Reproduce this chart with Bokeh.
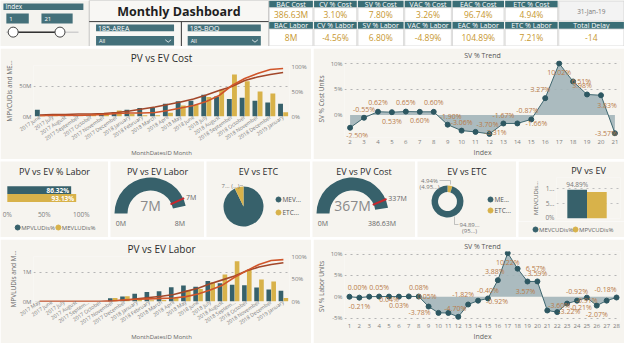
import math
from bokeh.plotting import figure
from bokeh.models import (ColumnDataSource, FactorRange, Range1d, LinearAxis, FixedTicker,
                          CustomJSTickFormatter)
from bokeh.layouts import column, row
from bokeh.transform import dodge
from bokeh.core.properties import value
from bokeh.embed import file_html
from bokeh.resources import INLINE

# ------------------------------------------------------------------ data
report_date = "31-Jan-19"
index_from = 1
index_to = 21
area_name = "185-AREA"
boq_name = "185-BOQ"
filter_value = "All"

kpi_cost_labels = ["BAC Cost", "CV % Cost", "SV % Cost", "VAC % Cost", "EAC % Cost", "ETC % Cost"]
kpi_cost_values = ["386.63M", "3.10%", "7.80%", "3.26%", "96.74%", "4.94%"]
kpi_labor_labels = ["BAC Labor", "CV % Labor", "SV % Labor", "VAC % Labor", "EAC % Labor",
                    "ETC % Labor", "Total Delay"]
kpi_labor_values = ["8M", "-4.56%", "6.80%", "-4.89%", "104.89%", "7.21%", "-14"]

cost_months = ["2017 June", "2017 July", "2017 August", "2017 September", "2017 October",
               "2017 November", "2017 December", "2018 January", "2018 February", "2018 March",
               "2018 April", "2018 May", "2018 June", "2018 July", "2018 August",
               "2018 September", "2018 October", "2018 November", "2018 December", "2019 January"]
cost_pv = [11, 4, 1, 2, 2, 3, 7, 11, 14, 15, 21, 25, 26, 36, 33, 29, 31, 26, 23, 21]          # M
cost_ev = [1, 3, 0.5, 0.5, 3, 4, 10, 4, 2, 2, 6, 18, 19, 32, 44, 69, 58, 41, 38, 7]           # M
cost_pv_cum = [3, 4, 4, 5, 5, 6, 8, 11, 15, 19, 24, 29, 35, 43, 52, 60, 72, 79, 84, 88]       # %
cost_ev_cum = [1, 2, 2, 2, 3, 4, 6, 7, 7, 8, 12, 17, 22, 30, 42, 62, 76, 86, 94, 96]          # %

labor_months = ["2017 May", "2017 June", "2017 July", "2017 August", "2017 Septem...",
                "2017 October", "2017 November", "2017 December", "2018 January",
                "2018 February", "2018 March", "2018 April", "2018 May", "2018 June",
                "2018 July", "2018 August", "2018 Septem...", "2018 October", "2018 November",
                "2018 December", "2019 January"]
labor_pv = [0.01, 0, 0, 0, 0, 0, 0.11, 0.17, 0.27, 0.33, 0.35, 0.49, 0.55, 0.51, 0.71, 0.63,
            0.58, 0.56, 0.48, 0.41, 0.37]
labor_ev = [0, 0, 0, 0, 0, 0, 0.12, 0.18, 0.09, 0.04, 0.05, 0.12, 0.39, 0.43, 0.66, 0.93,
            1.39, 1.09, 0.76, 0.69, 0.12]
labor_pv_cum = [0, 0, 0, 0, 0, 0, 1, 3, 6, 9, 12, 16, 23, 30, 40, 49, 58, 70, 78, 84, 88]
labor_ev_cum = [0, 0, 0, 0, 0, 0, 1, 4, 5, 6, 7, 8, 11, 17, 26, 37, 55, 70, 84, 93, 95]

sv_cost_index = list(range(2, 22))
sv_cost = [-2.50, -0.55, 0.62, 0.53, 0.65, 0.60, 0.60, -1.90, -3.06, -3.31, -3.70, -1.67,
           -1.66, -0.87, 3.27, 10.02, 6.51, 3.98, 3.83, -3.57]
sv_labor_index = list(range(1, 29))
sv_labor = [0.00, -0.21, 0.02, 0.05, 0.04, 0.03, 0.08, 0.05, -2.30, -3.78, -3.80, -4.70,
            -1.82, -0.92, -0.40, 3.88, 10.22, 6.57, 3.57, 3.59, -3.22, -3.60, -1.60, -0.92,
            -0.21, -2.07, -0.91, -0.18]

labor_pct_names = ["MPVLUDis%", "MEVLUDis%"]
labor_pct_values = [86.32, 93.13]
labor_pct_ticks = [0, 50, 100]
cost_pct_names = ["MEVCUDis%", "MPVCUDis%"]
cost_pct_values = [94.89, 87.16]

labor_gauge_value = 7.45
labor_gauge_target = 6.91
labor_gauge_max = 8
cost_gauge_value = 366.9
cost_gauge_target = 337.0
cost_gauge_max = 386.63

pie_names = ["MEV...", "ETC..."]
pie_values = [93.13, 7.21]
donut_names = ["ME...", "ETC..."]
donut_values = [94.89, 4.94]

# ------------------------------------------------------------------ styles
FONT = "Open Sans"
TEAL = "#37616b"
GOLD = "#d8b24a"
PV_LINE = "#a2472a"
EV_LINE = "#d0552a"
BG = "#f6f4ef"
AX_TXT = "#7d7d7d"
LBL_TXT = "#b97c4a"
SLICER = "#44707a"
KPI_TEAL = "#3a6e76"
KPI_GOLD = "#c7972f"

# label offsets for trend charts (screen px, +x right, +y down)
sv_cost_dx = [7, 0, 0, 0, 0, 0, 0, 3, 0, 20, -2, 0, 19, -4, -5, 0, 8, -5, 6, -9]
sv_cost_dy = [8, -8, -9, 9, -9, 9, -9, -8, -8, 1, -9, -8, 0, -9, -9, 9, 0, -9, 10, 0]
sv_cost_show = [1] * 20
sv_labor_dx = [8, 0, 0, 0, 0, 0, 10, 8, 0, -19, 0, -3, -5, 19, 0, -3, 0, 18, -2, 0, 22, 2,
               0, 0, -6, 0, -20, -11]
sv_labor_dy = [-9, 9, 0, -9, 3, 9, -9, 0, 0, 0, 0, -8, -10, 1, -8, -9, 9, 0, 10, -8, 1, -7,
               0, -9, 10, 9, 0, -8]
sv_labor_show = [1, 1, 0, 1, 1, 1, 1, 1, 0, 1, 0, 1, 1, 1, 1, 1, 1, 1, 1, 1, 1, 1, 0, 1, 1,
                 1, 1, 1]


def style_axis(ax, size="6px", lsize="6.5px"):
    ax.axis_line_color = None
    ax.major_tick_line_color = None
    ax.minor_tick_line_color = None
    ax.major_tick_out = 0
    ax.major_tick_in = 0
    ax.minor_tick_out = 0
    ax.minor_tick_in = 0
    ax.major_label_text_font = FONT
    ax.major_label_text_font_size = size
    ax.major_label_text_color = AX_TXT
    ax.axis_label_text_font = FONT
    ax.axis_label_text_font_size = lsize
    ax.axis_label_text_color = "#666666"
    ax.axis_label_text_font_style = "normal"
    ax.axis_label_standoff = 2
    ax.major_label_standoff = 2


def style_title(t, size):
    t.align = "center"
    t.text_font = FONT
    t.text_font_size = size
    t.text_font_style = "normal"
    t.text_color = "#2b2b2b"
    t.standoff = 1


def base(w, h, **kw):
    return figure(width=w, height=h, output_backend="svg", toolbar_location=None,
                  background_fill_color=BG, border_fill_color=BG, outline_line_color=None,
                  frame_align=False, **kw)


# ------------------------------------------------------------------ header
H_BG = "#f4f3ef"
hdr = figure(width=624, height=46, x_range=Range1d(0, 640), y_range=Range1d(48, 0),
             output_backend="svg", toolbar_location=None, min_border=0, frame_align=False,
             x_axis_type=None, y_axis_type=None, background_fill_color=H_BG,
             border_fill_color=H_BG, outline_line_color=None)
hdr.grid.visible = False


def box(l, r, t, b, fill, line=None, lw=0.8):
    hdr.quad(left=[l], right=[r], top=[t], bottom=[b], fill_color=fill, line_color=line,
             line_width=lw)


def htext(x, y, s, size, color, align="center", style="normal"):
    hdr.text(x=[x], y=[y], text=[s], text_font=value(FONT), text_font_size=value(size),
             text_color=color, text_align=align, text_baseline="middle",
             text_font_style=style)


box(3, 85, 3, 10, SLICER)
htext(5, 6.7, "Index", "6.5px", "white", "left")
box(6, 29, 13.5, 24, SLICER)
htext(9, 19, str(index_from), "6px", "white", "left")
box(42, 74, 13.5, 24, SLICER)
htext(45, 19, str(index_to), "6px", "white", "left")
hdr.line([6, 80], [33, 33], line_color="#cfcfcf", line_width=1.5)
hdr.line([13, 61], [33, 33], line_color="#333333", line_width=1.5)
hdr.scatter([13, 61], [33, 33], size=10, fill_color="white", line_color="#444444",
            line_width=1)

box(91, 275, 0, 22, "#f8f7f4", "#b8b8b8")
htext(183, 11, "Monthly Dashboard", "12.5px", "#1f1f1f", style="bold")
box(91, 275, 22, 48, "#f8f7f4", "#b8b8b8")
hdr.line([91, 275], [22, 22], line_color="#444444", line_width=1)
hdr.line([185.5, 185.5], [22, 48], line_color="#333333", line_width=1)
for l, r, name in [(98, 178, area_name), (192, 267, boq_name)]:
    box(l, r, 25, 32, SLICER)
    htext(l + 2, 28.7, name, "7px", "white", "left")
    box(l, r, 37, 47, SLICER)
    htext(l + 3, 42.2, filter_value, "5.5px", "white", "left")
    hdr.line([r - 9, r - 6, r - 3], [41, 43.5, 41], line_color="white", line_width=0.8)

kpi_edges = [275, 321, 366, 414, 463, 517, 572, 640]
for i, (lab, val) in enumerate(zip(kpi_cost_labels, kpi_cost_values)):
    l, r = kpi_edges[i] + 0.6, kpi_edges[i + 1] - 0.6
    box(l, r, 0, 7.5, KPI_TEAL)
    htext((l + r) / 2, 3.9, lab, "7px", "white")
    box(l, r, 7.5, 21.5, "white", "#d4d4d4")
    htext((l + r) / 2, 14.7, val, "8.5px", KPI_GOLD)
box(572.6, 639.5, 0.5, 21.5, "#f3f3f3", "#cfcfcf")
htext(606, 11, report_date, "6.5px", "#7a7a7a")
for i, (lab, val) in enumerate(zip(kpi_labor_labels, kpi_labor_values)):
    l, r = kpi_edges[i] + 0.6, kpi_edges[i + 1] - 0.6
    box(l, r, 22.5, 29.8, KPI_TEAL)
    htext((l + r) / 2, 26.2, lab, "7px", "white")
    box(l, r, 29.8, 47.5, "white", "#d4d4d4")
    htext((l + r) / 2, 39, val, "8.5px", KPI_GOLD)


# ------------------------------------------------------------------ combo charts
def combo(title, months, pv, ev, pv_cum, ev_cum, y_top, y_ticks, y_label, w, h):
    src = ColumnDataSource(dict(m=months, pv=pv, ev=ev, pvc=pv_cum, evc=ev_cum))
    p = base(w, h, x_range=FactorRange(*months), y_range=Range1d(0, y_top), title=title,
             min_border_left=33, min_border_right=22, min_border_top=0, min_border_bottom=0)
    p.extra_y_ranges = {"pct": Range1d(0, 102)}
    p.vbar(x=dodge("m", -0.2, range=p.x_range), top="pv", width=0.38, source=src,
           fill_color=TEAL, line_color=None)
    p.vbar(x=dodge("m", 0.2, range=p.x_range), top="ev", width=0.38, source=src,
           fill_color=GOLD, line_color=None)
    p.line(x="m", y="pvc", source=src, y_range_name="pct", line_color=PV_LINE, line_width=1.6)
    p.line(x="m", y="evc", source=src, y_range_name="pct", line_color=EV_LINE, line_width=1.6)
    style_title(p.title, "10px")
    p.yaxis.ticker = FixedTicker(ticks=y_ticks)
    p.yaxis.formatter = CustomJSTickFormatter(code="return tick + 'M'")
    p.yaxis.axis_label = y_label
    p.xaxis.axis_label = "MonthDatesID Month"
    rax = LinearAxis(y_range_name="pct", ticker=FixedTicker(ticks=[0, 50, 100]),
                     formatter=CustomJSTickFormatter(code="return tick + '%'"))
    p.add_layout(rax, "right")
    for ax in p.axis:
        style_axis(ax)
    p.xaxis.major_label_orientation = 0.6
    p.xaxis.major_label_text_font_size = "5.2px"
    p.xaxis.major_label_standoff = 0
    p.xaxis.axis_label_standoff = 0
    p.xaxis.axis_label_text_font_size = "6px"
    p.xgrid.visible = False
    p.ygrid.ticker = FixedTicker(ticks=y_ticks[1:])
    p.ygrid.grid_line_dash = "dotted"
    p.ygrid.grid_line_color = "#b5b5b5"
    return p


def trend(idx, vals, dxs, dys, show, y_label, xr, yr, yticks, w, h):
    p = base(w, h, x_range=Range1d(*xr), y_range=Range1d(*yr), title="SV % Trend",
             min_border_left=30, min_border_right=4, min_border_top=0, min_border_bottom=1)
    p.varea(x=idx, y1=0, y2=vals, fill_color="#a3b5b9", fill_alpha=0.9)
    p.line(idx, vals, line_color="#3f6770", line_width=1)
    p.scatter(idx, vals, size=5, fill_color="#2d5761", line_color="#2d5761")
    keep = [i for i, s in enumerate(show) if s]
    lsrc = ColumnDataSource(dict(
        x=[idx[i] for i in keep], y=[vals[i] for i in keep],
        t=[f"{vals[i]:.2f}%" for i in keep],
        dx=[dxs[i] for i in keep], dy=[dys[i] for i in keep]))
    p.text(x="x", y="y", text="t", x_offset="dx", y_offset="dy", source=lsrc,
           text_font=value(FONT), text_font_size=value("7px"), text_color=LBL_TXT,
           text_align="center", text_baseline="middle")
    style_title(p.title, "7px")
    p.title.text_color = "#555555"
    p.xaxis.ticker = FixedTicker(ticks=idx)
    p.xaxis.axis_label = "Index"
    p.yaxis.ticker = FixedTicker(ticks=yticks)
    p.yaxis.formatter = CustomJSTickFormatter(code="return tick + '%'")
    p.yaxis.axis_label = y_label
    for ax in p.axis:
        style_axis(ax)
    p.xaxis.axis_label_text_font_size = "7px"
    p.xaxis.axis_label_standoff = 1
    p.xgrid.visible = False
    p.ygrid.ticker = FixedTicker(ticks=[t for t in yticks if t != 0])
    p.ygrid.grid_line_dash = "dotted"
    p.ygrid.grid_line_color = "#b5b5b5"
    return p


cost_fig = combo("PV vs EV Cost", cost_months, cost_pv, cost_ev, cost_pv_cum, cost_ev_cum,
                 84, [0, 50], "MPVCUDis and ME...", 311, 111)
labor_fig = combo("PV vs EV Labor", labor_months, labor_pv, labor_ev, labor_pv_cum,
                  labor_ev_cum, 1.55, [0, 1], "MPVLUDis and M...", 311, 104)
svc_fig = trend(sv_cost_index, sv_cost, sv_cost_dx, sv_cost_dy, sv_cost_show,
                "SV % Cost Units", (1.6, 21.4), (-4.4, 10.6), [0, 5, 10], 311, 111)
svl_fig = trend(sv_labor_index, sv_labor, sv_labor_dx, sv_labor_dy, sv_labor_show,
                "SV % Labor Units", (0.5, 28.4), (-5.8, 10.6), [-5, 0, 5, 10], 311, 104)


# ------------------------------------------------------------------ small visuals
def px_fig(w, h, title=None, x_range=None):
    p = figure(width=w, height=h, x_range=x_range or Range1d(0, w), y_range=Range1d(0, h),
               output_backend="svg", toolbar_location=None, min_border=0, frame_align=False,
               x_axis_type=None, y_axis_type=None, background_fill_color=BG,
               border_fill_color=BG, outline_line_color=None)
    p.grid.visible = False
    if title:
        xm = (p.x_range.start + p.x_range.end) / 2
        p.text(x=[xm], y=[h - 3], text=[title], text_font=value(FONT),
               text_font_size=value("9px"), text_color="#2b2b2b", text_align="center",
               text_baseline="top")
    return p


def ptext(p, x, y, s, size="6.5px", color="#666666", align="center", baseline="middle"):
    p.text(x=[x], y=[y], text=[s], text_font=value(FONT), text_font_size=value(size),
           text_color=color, text_align=align, text_baseline=baseline)


def legend_row(p, xs, y, names, colors, size="6px"):
    p.scatter(xs, [y] * len(xs), size=5, fill_color=colors, line_color=colors)
    for x, n in zip(xs, names):
        p.text(x=[x], y=[y], text=[n], x_offset=3.5, text_font=value(FONT),
               text_font_size=value(size), text_color="#666666", text_align="left",
               text_baseline="middle")


# A: horizontal bars (x in percent, y in panel pixels)
pa = px_fig(108, 76, "PV vs EV % Labor", x_range=Range1d(-9.2, 136.8))
asrc = ColumnDataSource(dict(y=[47.3, 39.5], v=labor_pct_values, c=[TEAL, GOLD],
                             t=[f"{v:.2f}%" for v in labor_pct_values]))
pa.hbar(y="y", left=0, right="v", height=7.8, fill_color="c", line_color=None, source=asrc)
pa.text(x="v", y="y", text="t", x_offset=-2, source=asrc, text_font=value(FONT),
        text_font_size=value("6.5px"), text_color="white", text_align="right",
        text_baseline="middle", text_font_style="bold")
for t in labor_pct_ticks:
    ptext(pa, t, 23, f"{t}%", "6.5px", AX_TXT)
legend_row(pa, [14, 69], 10, labor_pct_names, [TEAL, GOLD])


# B / D: gauges
def gauge(title, val, target, vmax, w, h, cx, max_txt):
    p = px_fig(w, h, title)
    cy, r_in, r_out = 24, 23, 36
    a_val = math.pi * (1 - val / vmax)
    a_tgt = math.pi * (1 - target / vmax)
    p.annular_wedge(x=[cx], y=[cy], inner_radius=r_in, outer_radius=r_out,
                    start_angle=[a_val], end_angle=[math.pi], fill_color=TEAL,
                    line_color=None)
    p.segment(x0=[cx + (r_in - 1) * math.cos(a_tgt)], y0=[cy + (r_in - 1) * math.sin(a_tgt)],
              x1=[cx + (r_out + 1) * math.cos(a_tgt)], y1=[cy + (r_out + 1) * math.sin(a_tgt)],
              line_color="#c8262c", line_width=2)
    rm = (r_in + r_out) / 2
    ptext(p, cx - rm, cy - 10, "0M", "7px", "#666666")
    ptext(p, cx + rm, cy - 10, max_txt, "7px", "#666666")
    ptext(p, cx + (r_out + 3) * math.cos(a_tgt), cy + (r_out + 3) * math.sin(a_tgt),
          f"{target:.0f}M", "7px", "#666666", align="left")
    ptext(p, cx, cy - 1, f"{val:.0f}M", "14px", "#8a8a8a", baseline="bottom")
    return p


pb = gauge("PV vs EV Labor", labor_gauge_value, labor_gauge_target, labor_gauge_max,
           94, 76, 40, f"{labor_gauge_max}M")
pd_ = gauge("EV vs PV Cost", cost_gauge_value, cost_gauge_target, cost_gauge_max,
            103, 76, 40, f"{cost_gauge_max:.2f}M")


def wedge_angles(vals):
    tot = sum(vals)
    s, e, acc = [], [], 0.0
    for v in vals:
        s.append(math.pi / 2 - 2 * math.pi * acc / tot)
        acc += v
        e.append(math.pi / 2 - 2 * math.pi * acc / tot)
    return s, e


def mini_legend(p, x, ys, names, colors):
    p.scatter([x] * len(ys), ys, size=5, fill_color=colors, line_color=colors)
    for y, n in zip(ys, names):
        ptext(p, x + 4, y, n, "6.5px", "#555555", align="left")


# C: pie
pc = px_fig(104, 76, "EV vs ETC")
s, e = wedge_angles(pie_values)
pc.wedge(x=[37, 37], y=[31, 31], radius=20, start_angle=s, end_angle=e, direction="clock",
         fill_color=[TEAL, GOLD], line_color=None)
ptext(pc, 33, 52, "7... (...)", "6px", "#777777", align="right")
pc.line([33.5, 36.5], [52, 52], line_color="#aaaaaa", line_width=0.7)
mini_legend(pc, 72, [38, 25], pie_names, [TEAL, GOLD])

# E: donut
pe = px_fig(99, 76, "EV vs ETC")
s, e = wedge_angles(donut_values[::-1])
pe.annular_wedge(x=[30, 30], y=[36, 36], inner_radius=9.5, outer_radius=16,
                 start_angle=s, end_angle=e, direction="clock",
                 fill_color=[GOLD, TEAL], line_color=None)
ptext(pe, 12, 57, f"{donut_values[1]:.2f}%", "6px", "#777777")
ptext(pe, 12, 51, "(4.95...)", "6px", "#777777")
pe.line([22, 33, 33], [57, 57, 53], line_color="#aaaaaa", line_width=0.7)
ptext(pe, 52, 13, "94.89...", "6px", "#777777")
ptext(pe, 52, 7, "(95...)", "6px", "#777777")
pe.line([37, 37, 41], [21, 13, 13], line_color="#aaaaaa", line_width=0.7)
mini_legend(pe, 73, [38, 27], donut_names, [TEAL, GOLD])

# F: columns
pf = base(106, 60, x_range=Range1d(-1.05, 2.2), y_range=Range1d(0, 135), title="PV vs EV",
          min_border_left=38, min_border_right=4, min_border_top=0, min_border_bottom=3)
fsrc = ColumnDataSource(dict(x=[0, 1], v=cost_pct_values, c=[TEAL, GOLD]))
pf.vbar(x="x", top="v", width=1.0, fill_color="c", line_color=None, source=fsrc)
pf.text(x=[0], y=[cost_pct_values[0]], text=[f"{cost_pct_values[0]:.2f}%"], y_offset=-1,
        text_font=value(FONT), text_font_size=value("6.5px"), text_color="#777777",
        text_align="center", text_baseline="bottom")
style_title(pf.title, "9px")
pf.xaxis.visible = False
pf.yaxis.ticker = FixedTicker(ticks=[0, 50, 100])
pf.yaxis.formatter = CustomJSTickFormatter(
    code="return tick == 0 ? '0%' : String(tick).charAt(0) + '...'")
pf.yaxis.axis_label = "MEVCUDis..."
style_axis(pf.yaxis, size="6.5px")
pf.yaxis.axis_label_text_font_size = "6px"
pf.xgrid.visible = False
pf.ygrid.ticker = FixedTicker(ticks=[50, 100])
pf.ygrid.grid_line_dash = "dotted"
pf.ygrid.grid_line_color = "#c0c0c0"
pf_leg = px_fig(106, 16)
legend_row(pf_leg, [17, 57], 8, cost_pct_names, [TEAL, GOLD])
panel_f = column(pf, pf_leg, spacing=0)

# ------------------------------------------------------------------ layout
layout = column(
    hdr,
    row(cost_fig, svc_fig, spacing=2),
    row(pa, pb, pc, pd_, pe, panel_f, spacing=2),
    row(labor_fig, svl_fig, spacing=2),
    spacing=2,
)

open("out.html", "w").write(file_html(layout, INLINE))
